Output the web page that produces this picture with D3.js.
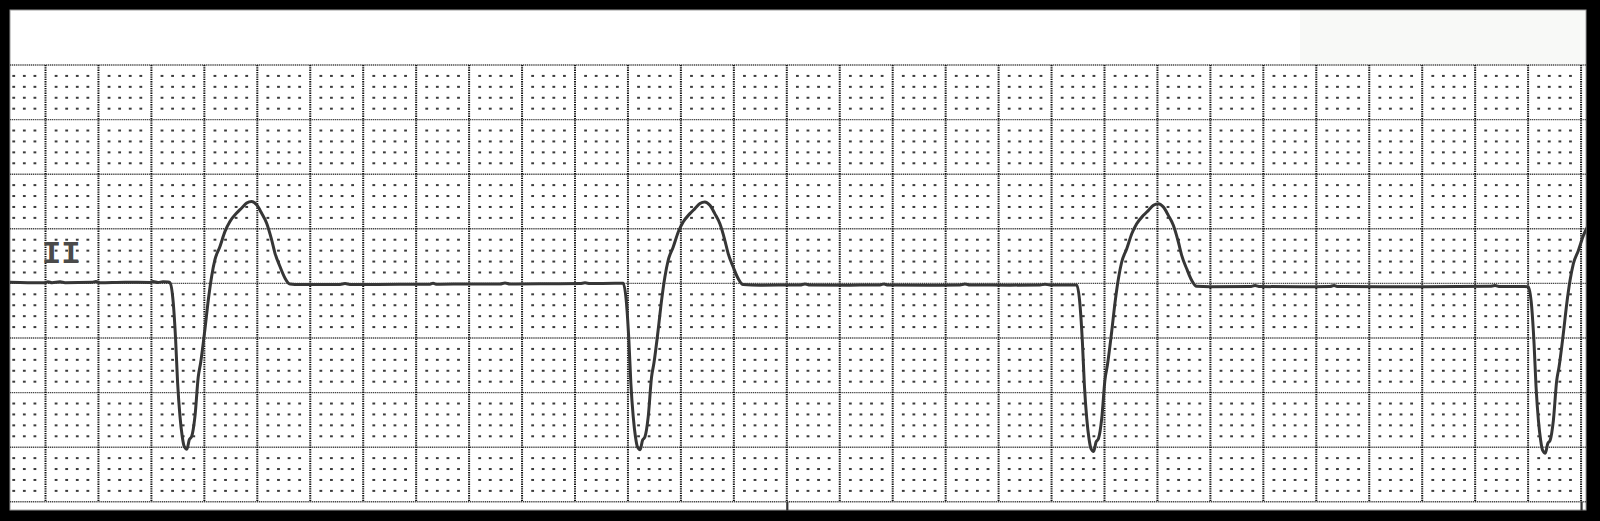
<!DOCTYPE html>
<html><head><meta charset="utf-8">
<script src="https://cdn.jsdelivr.net/npm/d3@7"></script>
<style>html,body{margin:0;padding:0;background:#000;overflow:hidden}svg{display:block}</style>
</head><body>
<svg id="c" width="1600" height="521"></svg>
<script>
// ---- data read from the strip (time in s, amplitude in mV) ----
const leadLabel = "II";
const beatOnsetS = [0.670, 2.382, 4.095, 5.801];
const beatLevelMv = [0.006, 0.001, -0.015, -0.030];
// one wide complex, ms after onset / mV relative to baseline
const complexMs = [0, 12.5, 21.5, 29, 38, 46.5, 54, 64, 73, 82, 94.5, 107, 116, 132, 145, 157.5,
  170, 189, 208, 226.6, 252, 271, 290, 308.6, 327.5, 346, 365, 384, 396.6, 415.5, 434.4, 453];
const complexMv = [0, -0.183, -0.522, -0.916, -1.224, -1.408, -1.499, -1.525, -1.438, -1.408, -1.224,
  -0.861, -0.733, -0.430, -0.156, 0.058, 0.211, 0.332, 0.470, 0.561, 0.638, 0.684, 0.730, 0.745,
  0.714, 0.638, 0.547, 0.394, 0.272, 0.149, 0.043, -0.012];
// flat segments between complexes (with the small pen jitter)
const baselineS = [0.0, 0.1037, 0.1981, 0.2094, 0.2246, 0.2548, 0.2737, 0.3756, 0.3907, 0.4059, 0.5003,
  0.5947, 0.6060, 0.6249, 0.6438, 0.6627,
  1.1613, 1.3124, 1.3313, 1.3501, 1.5390, 1.6523, 1.6637, 1.6788, 1.8034, 1.9167, 1.9356, 1.9545,
  2.0678, 2.2189, 2.2378, 2.2567, 2.3511,
  2.8988, 3.0499, 3.0688, 3.0877, 3.2387, 3.3520, 3.3671, 3.3822, 3.5409, 3.6542, 3.6731, 3.6920,
  3.8431, 3.9564, 3.9753, 3.9942, 4.0697,
  4.5985, 4.7496, 4.7685, 4.7874, 4.9384, 5.0517, 5.0669, 5.0820, 5.2406, 5.3917, 5.6561, 5.6750,
  5.6939, 5.7694];
const baselineMv = [0.010, 0.009, 0.005, 0.015, 0.007, 0.014, 0.007, 0.010, 0.017, 0.007, 0.011,
  0.009, 0.017, 0.008, 0.016, 0.013,
  -0.011, -0.010, -0.002, -0.010, -0.008, -0.007, 0.001, -0.008, -0.005, -0.005, 0.004, -0.005,
  -0.003, -0.002, 0.005, -0.002, 0.001,
  -0.016, -0.015, -0.005, -0.015, -0.016, -0.014, -0.005, -0.015, -0.016, -0.014, -0.006, -0.015,
  -0.016, -0.015, -0.007, -0.015, -0.014,
  -0.031, -0.029, -0.020, -0.029, -0.031, -0.028, -0.019, -0.029, -0.030, -0.030, -0.027, -0.020,
  -0.029, -0.028];
const timeMarkS = [3, 6];

// ---- layout ----
const svg = d3.select("#c");
const paper = {x0: 10, y0: 10, x1: 1586, y1: 510};
const x = d3.scaleLinear().domain([0, 6]).range([-7.45, 1581.05]);
const y = d3.scaleLinear().domain([-2, 2]).range([501.8, 65]);

svg.append("rect").attr("width", 1600).attr("height", 521).attr("fill", "#000");
svg.append("defs").append("clipPath").attr("id", "paperClip")
  .append("rect").attr("x", paper.x0).attr("y", paper.y0)
  .attr("width", paper.x1 - paper.x0).attr("height", paper.y1 - paper.y0);

svg.append("rect").attr("x", paper.x0).attr("y", paper.y0)
  .attr("width", paper.x1 - paper.x0).attr("height", paper.y1 - paper.y0)
  .attr("fill", "#fff").attr("stroke", "#9a9a9a").attr("stroke-width", 1);
svg.append("rect").attr("x", 1300).attr("y", paper.y0 + 1)
  .attr("width", paper.x1 - 1301).attr("height", 53).attr("fill", "#f8f9f7");

const g = svg.append("g").attr("clip-path", "url(#paperClip)");

// minor dots
const minorT = d3.range(0, 151).filter(j => j % 5 !== 0).map(j => j * 0.04);
const minorV = d3.range(0, 41).filter(i => i % 5 !== 0).map(i => -2 + i * 0.1);
const dots = [];
minorT.forEach(t => minorV.forEach(v => dots.push([t, v])));
g.append("g").selectAll("rect").data(dots).join("rect")
  .attr("x", d => x(d[0]) - 1.4).attr("y", d => y(d[1]) - 1)
  .attr("width", 2.8).attr("height", 2).attr("fill", "#3c3c3c");

// major lines
const majorT = d3.range(0, 31).map(k => k * 0.2);
const majorV = d3.range(0, 9).map(m => -2 + m * 0.5);
g.append("g").selectAll("line").data(majorV).join("line")
  .attr("x1", paper.x0).attr("x2", paper.x1)
  .attr("y1", d => y(d)).attr("y2", d => y(d))
  .attr("stroke", "#444").attr("stroke-width", 1.4).attr("stroke-dasharray", "1.2,0.7");
g.append("g").selectAll("line").data(majorT).join("line")
  .attr("x1", d => x(d)).attr("x2", d => x(d))
  .attr("y1", y(2)).attr("y2", y(-2))
  .attr("stroke", "#111").attr("stroke-width", 2).attr("stroke-dasharray", "1.3,1");

// time marks at the lower edge
svg.append("g").selectAll("line").data(timeMarkS).join("line")
  .attr("x1", d => x(d) + 0.5).attr("x2", d => x(d) + 0.5)
  .attr("y1", y(-2)).attr("y2", paper.y1 + 1)
  .attr("stroke", "#333").attr("stroke-width", 2.2);

// lead label
g.append("text").attr("x", 42).attr("y", 263).text(leadLabel)
  .attr("font-family", "'Liberation Mono', 'DejaVu Sans Mono', monospace")
  .attr("font-size", 32).attr("font-weight", "bold").attr("fill", "#4a4a4a");

// trace
const pts = baselineS.map((t, i) => [t, baselineMv[i]]);
beatOnsetS.forEach((t0, b) => {
  complexMs.forEach((ms, i) => pts.push([t0 + ms / 1000, beatLevelMv[b] + complexMv[i]]));
});
pts.sort((a, b) => a[0] - b[0]);
g.append("path").datum(pts)
  .attr("d", d3.line().x(d => x(d[0])).y(d => y(d[1])).curve(d3.curveMonotoneX))
  .attr("fill", "none").attr("stroke", "#363636").attr("stroke-width", 3)
  .attr("stroke-linejoin", "round").attr("stroke-linecap", "round");
</script>
</body></html>
